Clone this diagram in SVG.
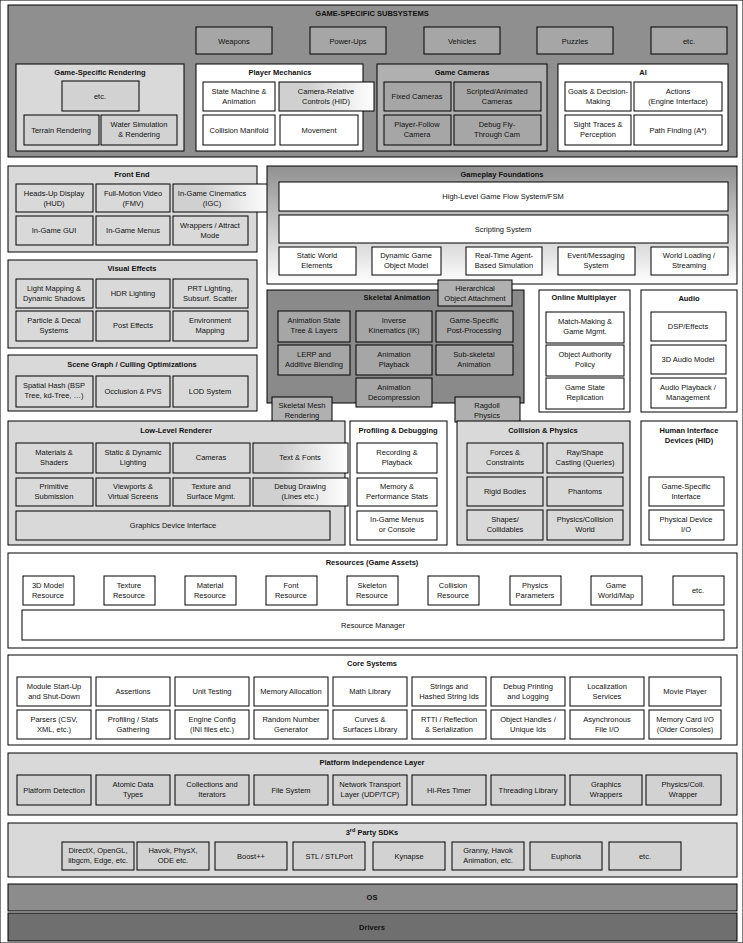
<svg xmlns="http://www.w3.org/2000/svg" width="743" height="943" viewBox="0 0 743 943">
<style>
rect{stroke:#000;stroke-width:1}
text{font-family:"Liberation Sans",Arial,sans-serif;font-size:7.5px;text-anchor:middle;fill:#111}
.t{font-weight:bold}
.w{fill:#fff}.l{fill:#d9d9d9}.m{fill:#a6a6a6}.d{fill:#8f8f8f}.s{fill:#8a8a8a}.c{fill:#b0b0b0}.p{fill:#d2d2d2}
</style>
<defs>
<linearGradient id="g1" x1="0" x2="1"><stop offset="0.3" stop-color="#d0d0d0"/><stop offset="1" stop-color="#fff"/></linearGradient>
<linearGradient id="g2" x1="0" y1="0" x2="0" y2="1"><stop offset="0" stop-color="#909090"/><stop offset="1" stop-color="#fff"/></linearGradient>
</defs>
<rect width="743" height="943" fill="#fff" stroke="none"/>
<g id="gss">
<rect class="d" x="8" y="5" width="729" height="152"/><text class="t" x="372" y="16">GAME-SPECIFIC SUBSYSTEMS</text>
<rect class="m" x="196" y="27" width="76" height="27"/><text x="234" y="44">Weapons</text>
<rect class="m" x="310" y="27" width="76" height="27"/><text x="348" y="44">Power-Ups</text>
<rect class="m" x="424" y="27" width="76" height="27"/><text x="462" y="44">Vehicles</text>
<rect class="m" x="537" y="27" width="76" height="27"/><text x="575" y="44">Puzzles</text>
<rect class="m" x="651" y="27" width="76" height="27"/><text x="689" y="44">etc.</text>
</g>
<g id="gsr">
<rect class="l" x="16" y="64" width="168" height="87"/><text class="t" x="100" y="75">Game-Specific Rendering</text>
<rect class="p" x="62" y="81" width="77" height="30"/><text x="100" y="99">etc.</text>
<rect class="p" x="24" y="115" width="75" height="30"/><text x="61" y="133">Terrain Rendering</text>
<rect class="p" x="101" y="115" width="76" height="30"/><text x="139" y="127">Water Simulation</text><text x="139" y="137">&amp; Rendering</text>
</g>
<g id="pm">
<rect class="w" x="196" y="64" width="167" height="87"/><text class="t" x="280" y="75">Player Mechanics</text>
<rect class="w" x="203" y="82" width="72" height="29"/><text x="239" y="94">State Machine &amp;</text><text x="239" y="104">Animation</text>
<rect fill="url(#g1)" x="279" y="82" width="95" height="29"/><text x="326" y="94">Camera-Relative</text><text x="326" y="104">Controls (HID)</text>
<rect class="w" x="203" y="115" width="72" height="30"/><text x="239" y="133">Collision Manifold</text>
<rect class="w" x="280" y="115" width="78" height="30"/><text x="319" y="133">Movement</text>
</g>
<g id="gc">
<rect class="c" x="377" y="64" width="170" height="87"/><text class="t" x="462" y="75">Game Cameras</text>
<rect class="m" x="384" y="82" width="67" height="29"/><text x="417" y="99">Fixed Cameras</text>
<rect class="m" x="454" y="82" width="87" height="29"/><text x="497" y="94">Scripted/Animated</text><text x="497" y="104">Cameras</text>
<rect class="m" x="384" y="115" width="67" height="30"/><text x="417" y="127">Player-Follow</text><text x="417" y="137">Camera</text>
<rect class="m" x="454" y="115" width="87" height="30"/><text x="497" y="127">Debug Fly-</text><text x="497" y="137">Through Cam</text>
</g>
<g id="ai">
<rect class="w" x="558" y="64" width="170" height="87"/><text class="t" x="643" y="75">AI</text>
<rect class="w" x="565" y="82" width="66" height="29"/><text x="598" y="94">Goals &amp; Decision-</text><text x="598" y="104">Making</text>
<rect class="w" x="634" y="82" width="88" height="29"/><text x="678" y="94">Actions</text><text x="678" y="104">(Engine Interface)</text>
<rect class="w" x="565" y="115" width="66" height="30"/><text x="598" y="127">Sight Traces &amp;</text><text x="598" y="137">Perception</text>
<rect class="w" x="634" y="115" width="88" height="30"/><text x="678" y="133">Path Finding (A*)</text>
</g>
<g id="fe">
<rect class="l" x="8" y="166" width="249" height="86"/><text class="t" x="132" y="177">Front End</text>
<rect class="l" x="16" y="184" width="77" height="28"/><text x="54" y="196">Heads-Up Display</text><text x="54" y="206">(HUD)</text>
<rect class="l" x="96" y="184" width="74" height="28"/><text x="133" y="196">Full-Motion Video</text><text x="133" y="206">(FMV)</text>
<rect fill="url(#g1)" x="173" y="184" width="98" height="28"/><text x="212" y="196">In-Game Cinematics</text><text x="212" y="206">(IGC)</text>
<rect class="l" x="16" y="216" width="77" height="29"/><text x="54" y="233">In-Game GUI</text>
<rect class="l" x="96" y="216" width="74" height="29"/><text x="133" y="233">In-Game Menus</text>
<rect class="l" x="173" y="216" width="75" height="29"/><text x="210" y="228">Wrappers / Attract</text><text x="210" y="238">Mode</text>
</g>
<g id="vfx">
<rect class="l" x="8" y="260" width="249" height="88"/><text class="t" x="132" y="271">Visual Effects</text>
<rect class="l" x="16" y="279" width="77" height="29"/><text x="54" y="291">Light Mapping &amp;</text><text x="54" y="301">Dynamic Shadows</text>
<rect class="l" x="96" y="279" width="74" height="29"/><text x="133" y="296">HDR Lighting</text>
<rect class="l" x="173" y="279" width="75" height="29"/><text x="210" y="291">PRT Lighting,</text><text x="210" y="301">Subsurf. Scatter</text>
<rect class="l" x="16" y="311" width="77" height="30"/><text x="54" y="323">Particle &amp; Decal</text><text x="54" y="333">Systems</text>
<rect class="l" x="96" y="311" width="74" height="30"/><text x="133" y="328">Post Effects</text>
<rect class="l" x="173" y="311" width="75" height="30"/><text x="210" y="323">Environment</text><text x="210" y="333">Mapping</text>
</g>
<g id="sg">
<rect class="l" x="8" y="355" width="249" height="56"/><text class="t" x="132" y="367">Scene Graph / Culling Optimizations</text>
<rect class="l" x="16" y="376" width="77" height="31"/><text x="54" y="388">Spatial Hash (BSP</text><text x="54" y="398">Tree, kd-Tree, …)</text>
<rect class="l" x="96" y="376" width="74" height="31"/><text x="133" y="394">Occlusion &amp; PVS</text>
<rect class="l" x="173" y="376" width="75" height="31"/><text x="210" y="394">LOD System</text>
</g>
<g id="gf">
<rect fill="url(#g2)" x="267" y="166" width="470" height="118"/><text class="t" x="502" y="177">Gameplay Foundations</text>
<rect class="w" x="279" y="182" width="449" height="29"/><text x="503" y="199">High-Level Game Flow System/FSM</text>
<rect class="w" x="279" y="215" width="449" height="28"/><text x="503" y="232">Scripting System</text>
<rect class="w" x="279" y="247" width="77" height="28"/><text x="317" y="258">Static World</text><text x="317" y="268">Elements</text>
<rect class="w" x="372" y="247" width="69" height="28"/><text x="406" y="258">Dynamic Game</text><text x="406" y="268">Object Model</text>
<rect class="w" x="466" y="247" width="76" height="28"/><text x="504" y="258">Real-Time Agent-</text><text x="504" y="268">Based Simulation</text>
<rect class="w" x="558" y="247" width="77" height="28"/><text x="596" y="258">Event/Messaging</text><text x="596" y="268">System</text>
<rect class="w" x="651" y="247" width="77" height="28"/><text x="689" y="258">World Loading /</text><text x="689" y="268">Streaming</text>
</g>
<g id="ska">
<rect class="s" x="267" y="290" width="257" height="113"/><text class="t" x="397" y="300">Skeletal Animation</text>
<rect class="c" x="438" y="280" width="74" height="26"/><text x="475" y="291">Hierarchical</text><text x="475" y="301">Object Attachment</text>
<rect class="m" x="278" y="311" width="72" height="31"/><text x="314" y="323">Animation State</text><text x="314" y="333">Tree &amp; Layers</text>
<rect class="m" x="356" y="311" width="76" height="31"/><text x="394" y="323">Inverse</text><text x="394" y="333">Kinematics (IK)</text>
<rect class="m" x="436" y="311" width="77" height="31"/><text x="474" y="323">Game-Specific</text><text x="474" y="333">Post-Processing</text>
<rect class="m" x="278" y="345" width="72" height="30"/><text x="314" y="357">LERP and</text><text x="314" y="367">Additive Blending</text>
<rect class="m" x="356" y="345" width="76" height="30"/><text x="394" y="357">Animation</text><text x="394" y="367">Playback</text>
<rect class="m" x="436" y="345" width="77" height="30"/><text x="474" y="357">Sub-skeletal</text><text x="474" y="367">Animation</text>
<rect class="m" x="356" y="378" width="76" height="29"/><text x="394" y="390">Animation</text><text x="394" y="400">Decompression</text>
<rect class="c" x="272" y="397" width="60" height="25"/><text x="302" y="408">Skeletal Mesh</text><text x="302" y="418">Rendering</text>
<rect class="c" x="455" y="397" width="65" height="25"/><text x="487" y="408">Ragdoll</text><text x="487" y="418">Physics</text>
</g>
<g id="om">
<rect class="w" x="539" y="290" width="91" height="122"/><text class="t" x="584" y="300">Online Multiplayer</text>
<rect class="w" x="546" y="312" width="78" height="31"/><text x="585" y="324">Match-Making &amp;</text><text x="585" y="334">Game Mgmt.</text>
<rect class="w" x="546" y="345" width="78" height="31"/><text x="585" y="357">Object Authority</text><text x="585" y="367">Policy</text>
<rect class="w" x="546" y="378" width="78" height="31"/><text x="585" y="390">Game State</text><text x="585" y="400">Replication</text>
</g>
<g id="au">
<rect class="w" x="641" y="290" width="96" height="122"/><text class="t" x="689" y="301">Audio</text>
<rect class="w" x="651" y="312" width="75" height="29"/><text x="688" y="329">DSP/Effects</text>
<rect class="w" x="651" y="345" width="75" height="29"/><text x="688" y="362">3D Audio Model</text>
<rect class="w" x="651" y="378" width="75" height="30"/><text x="688" y="390">Audio Playback /</text><text x="688" y="400">Management</text>
</g>
<g id="llr">
<rect class="l" x="8" y="421" width="337" height="124"/><text class="t" x="176" y="433">Low-Level Renderer</text>
<rect class="l" x="16" y="443" width="77" height="30"/><text x="54" y="455">Materials &amp;</text><text x="54" y="465">Shaders</text>
<rect class="l" x="96" y="443" width="74" height="30"/><text x="133" y="455">Static &amp; Dynamic</text><text x="133" y="465">Lighting</text>
<rect class="l" x="173" y="443" width="77" height="30"/><text x="211" y="460">Cameras</text>
<rect fill="url(#g1)" x="253" y="443" width="95" height="30"/><text x="300" y="460">Text &amp; Fonts</text>
<rect class="l" x="16" y="478" width="77" height="28"/><text x="54" y="489">Primitive</text><text x="54" y="499">Submission</text>
<rect class="l" x="96" y="478" width="74" height="28"/><text x="133" y="489">Viewports &amp;</text><text x="133" y="499">Virtual Screens</text>
<rect class="l" x="173" y="478" width="77" height="28"/><text x="211" y="489">Texture and</text><text x="211" y="499">Surface Mgmt.</text>
<rect fill="url(#g1)" x="253" y="478" width="95" height="28"/><text x="300" y="489">Debug Drawing</text><text x="300" y="499">(Lines etc.)</text>
<rect class="l" x="16" y="511" width="314" height="29"/><text x="173" y="528">Graphics Device Interface</text>
</g>
<g id="pd">
<rect class="w" x="350" y="421" width="97" height="124"/><text class="t" x="398" y="433">Profiling &amp; Debugging</text>
<rect class="w" x="357" y="443" width="80" height="30"/><text x="397" y="455">Recording &amp;</text><text x="397" y="465">Playback</text>
<rect class="w" x="357" y="478" width="80" height="28"/><text x="397" y="489">Memory &amp;</text><text x="397" y="499">Performance Stats</text>
<rect class="w" x="357" y="511" width="80" height="29"/><text x="397" y="522">In-Game Menus</text><text x="397" y="532">or Console</text>
</g>
<g id="cp">
<rect class="l" x="457" y="421" width="173" height="124"/><text class="t" x="543" y="433">Collision &amp; Physics</text>
<rect class="l" x="467" y="443" width="76" height="30"/><text x="505" y="455">Forces &amp;</text><text x="505" y="465">Constraints</text>
<rect class="l" x="547" y="443" width="76" height="30"/><text x="585" y="455">Ray/Shape</text><text x="585" y="465">Casting (Queries)</text>
<rect class="l" x="467" y="477" width="76" height="29"/><text x="505" y="494">Rigid Bodies</text>
<rect class="l" x="547" y="477" width="76" height="29"/><text x="585" y="494">Phantoms</text>
<rect class="l" x="467" y="510" width="76" height="30"/><text x="505" y="522">Shapes/</text><text x="505" y="532">Collidables</text>
<rect class="l" x="547" y="510" width="76" height="30"/><text x="585" y="522">Physics/Collision</text><text x="585" y="532">World</text>
</g>
<g id="hid">
<rect class="w" x="641" y="421" width="96" height="124"/><text class="t" x="689" y="433">Human Interface</text><text class="t" x="689" y="443">Devices (HID)</text>
<rect class="w" x="649" y="477" width="75" height="29"/><text x="686" y="489">Game-Specific</text><text x="686" y="499">Interface</text>
<rect class="w" x="649" y="510" width="75" height="30"/><text x="686" y="522">Physical Device</text><text x="686" y="532">I/O</text>
</g>
<g id="res">
<rect class="w" x="8" y="553" width="729" height="95"/><text class="t" x="372" y="565">Resources (Game Assets)</text>
<rect class="w" x="23" y="576" width="51" height="29"/><text x="48" y="588">3D Model</text><text x="48" y="598">Resource</text>
<rect class="w" x="104" y="576" width="51" height="29"/><text x="129" y="588">Texture</text><text x="129" y="598">Resource</text>
<rect class="w" x="185" y="576" width="51" height="29"/><text x="210" y="588">Material</text><text x="210" y="598">Resource</text>
<rect class="w" x="266" y="576" width="51" height="29"/><text x="291" y="588">Font</text><text x="291" y="598">Resource</text>
<rect class="w" x="347" y="576" width="51" height="29"/><text x="372" y="588">Skeleton</text><text x="372" y="598">Resource</text>
<rect class="w" x="428" y="576" width="51" height="29"/><text x="453" y="588">Collision</text><text x="453" y="598">Resource</text>
<rect class="w" x="510" y="576" width="51" height="29"/><text x="535" y="588">Physics</text><text x="535" y="598">Parameters</text>
<rect class="w" x="591" y="576" width="51" height="29"/><text x="616" y="588">Game</text><text x="616" y="598">World/Map</text>
<rect class="w" x="673" y="576" width="51" height="29"/><text x="698" y="593">etc.</text>
<rect class="w" x="22" y="610" width="702" height="30"/><text x="373" y="628">Resource Manager</text>
</g>
<g id="core">
<rect class="w" x="8" y="655" width="729" height="90"/><text class="t" x="372" y="666">Core Systems</text>
<rect class="w" x="17" y="677" width="74" height="29"/><text x="54" y="689">Module Start-Up</text><text x="54" y="699">and Shut-Down</text>
<rect class="w" x="96" y="677" width="74" height="29"/><text x="133" y="694">Assertions</text>
<rect class="w" x="175" y="677" width="74" height="29"/><text x="212" y="694">Unit Testing</text>
<rect class="w" x="254" y="677" width="74" height="29"/><text x="291" y="694">Memory Allocation</text>
<rect class="w" x="333" y="677" width="74" height="29"/><text x="370" y="694">Math Library</text>
<rect class="w" x="412" y="677" width="74" height="29"/><text x="449" y="689">Strings and</text><text x="449" y="699">Hashed String Ids</text>
<rect class="w" x="491" y="677" width="74" height="29"/><text x="528" y="689">Debug Printing</text><text x="528" y="699">and Logging</text>
<rect class="w" x="570" y="677" width="74" height="29"/><text x="607" y="689">Localization</text><text x="607" y="699">Services</text>
<rect class="w" x="649" y="677" width="72" height="29"/><text x="685" y="694">Movie Player</text>
<rect class="w" x="17" y="710" width="74" height="29"/><text x="54" y="722">Parsers (CSV,</text><text x="54" y="732">XML, etc.)</text>
<rect class="w" x="96" y="710" width="74" height="29"/><text x="133" y="722">Profiling / Stats</text><text x="133" y="732">Gathering</text>
<rect class="w" x="175" y="710" width="74" height="29"/><text x="212" y="722">Engine Config</text><text x="212" y="732">(INI files etc.)</text>
<rect class="w" x="254" y="710" width="74" height="29"/><text x="291" y="722">Random Number</text><text x="291" y="732">Generator</text>
<rect class="w" x="333" y="710" width="74" height="29"/><text x="370" y="722">Curves &amp;</text><text x="370" y="732">Surfaces Library</text>
<rect class="w" x="412" y="710" width="74" height="29"/><text x="449" y="722">RTTI / Reflection</text><text x="449" y="732">&amp; Serialization</text>
<rect class="w" x="491" y="710" width="74" height="29"/><text x="528" y="722">Object Handles /</text><text x="528" y="732">Unique Ids</text>
<rect class="w" x="570" y="710" width="74" height="29"/><text x="607" y="722">Asynchronous</text><text x="607" y="732">File I/O</text>
<rect class="w" x="649" y="710" width="72" height="29"/><text x="685" y="722">Memory Card I/O</text><text x="685" y="732">(Older Consoles)</text>
</g>
<g id="pil">
<rect class="l" x="8" y="753" width="729" height="62"/><text class="t" x="372" y="765">Platform Independence Layer</text>
<rect class="p" x="17" y="775" width="74" height="30"/><text x="54" y="793">Platform Detection</text>
<rect class="p" x="96" y="775" width="74" height="30"/><text x="133" y="787">Atomic Data</text><text x="133" y="797">Types</text>
<rect class="p" x="175" y="775" width="74" height="30"/><text x="212" y="787">Collections and</text><text x="212" y="797">Iterators</text>
<rect class="p" x="254" y="775" width="74" height="30"/><text x="291" y="793">File System</text>
<rect class="p" x="333" y="775" width="74" height="30"/><text x="370" y="787">Network Transport</text><text x="370" y="797">Layer (UDP/TCP)</text>
<rect class="p" x="412" y="775" width="74" height="30"/><text x="449" y="793">Hi-Res Timer</text>
<rect class="p" x="491" y="775" width="74" height="30"/><text x="528" y="793">Threading Library</text>
<rect class="p" x="570" y="775" width="72" height="30"/><text x="606" y="787">Graphics</text><text x="606" y="797">Wrappers</text>
<rect class="p" x="646" y="775" width="75" height="30"/><text x="683" y="787">Physics/Coll.</text><text x="683" y="797">Wrapper</text>
</g>
<g id="sdk">
<rect class="l" x="8" y="823" width="729" height="54"/><text class="t" x="372" y="835">3<tspan font-size="5.5" dy="-3">rd</tspan><tspan dy="3"> Party SDKs</tspan></text>
<rect class="p" x="62" y="842" width="72" height="28"/><text x="98" y="853">DirectX, OpenGL,</text><text x="98" y="863">libgcm, Edge, etc.</text>
<rect class="p" x="137" y="842" width="72" height="28"/><text x="173" y="853">Havok, PhysX,</text><text x="173" y="863">ODE etc.</text>
<rect class="p" x="215" y="842" width="72" height="28"/><text x="251" y="859">Boost++</text>
<rect class="p" x="293" y="842" width="72" height="28"/><text x="329" y="859">STL / STLPort</text>
<rect class="p" x="373" y="842" width="72" height="28"/><text x="409" y="859">Kynapse</text>
<rect class="p" x="452" y="842" width="72" height="28"/><text x="488" y="853">Granny, Havok</text><text x="488" y="863">Animation, etc.</text>
<rect class="p" x="530" y="842" width="72" height="28"/><text x="566" y="859">Euphoria</text>
<rect class="p" x="609" y="842" width="72" height="28"/><text x="645" y="859">etc.</text>
</g>
<g id="os"><rect fill="#8c8c8c" x="8" y="884" width="729" height="27"/><text class="t" x="372" y="900">OS</text></g>
<g id="drv"><rect fill="#6f6f6f" x="8" y="913" width="729" height="28"/><text class="t" x="372" y="930">Drivers</text></g>
<g id="connectors"></g>
</svg>
